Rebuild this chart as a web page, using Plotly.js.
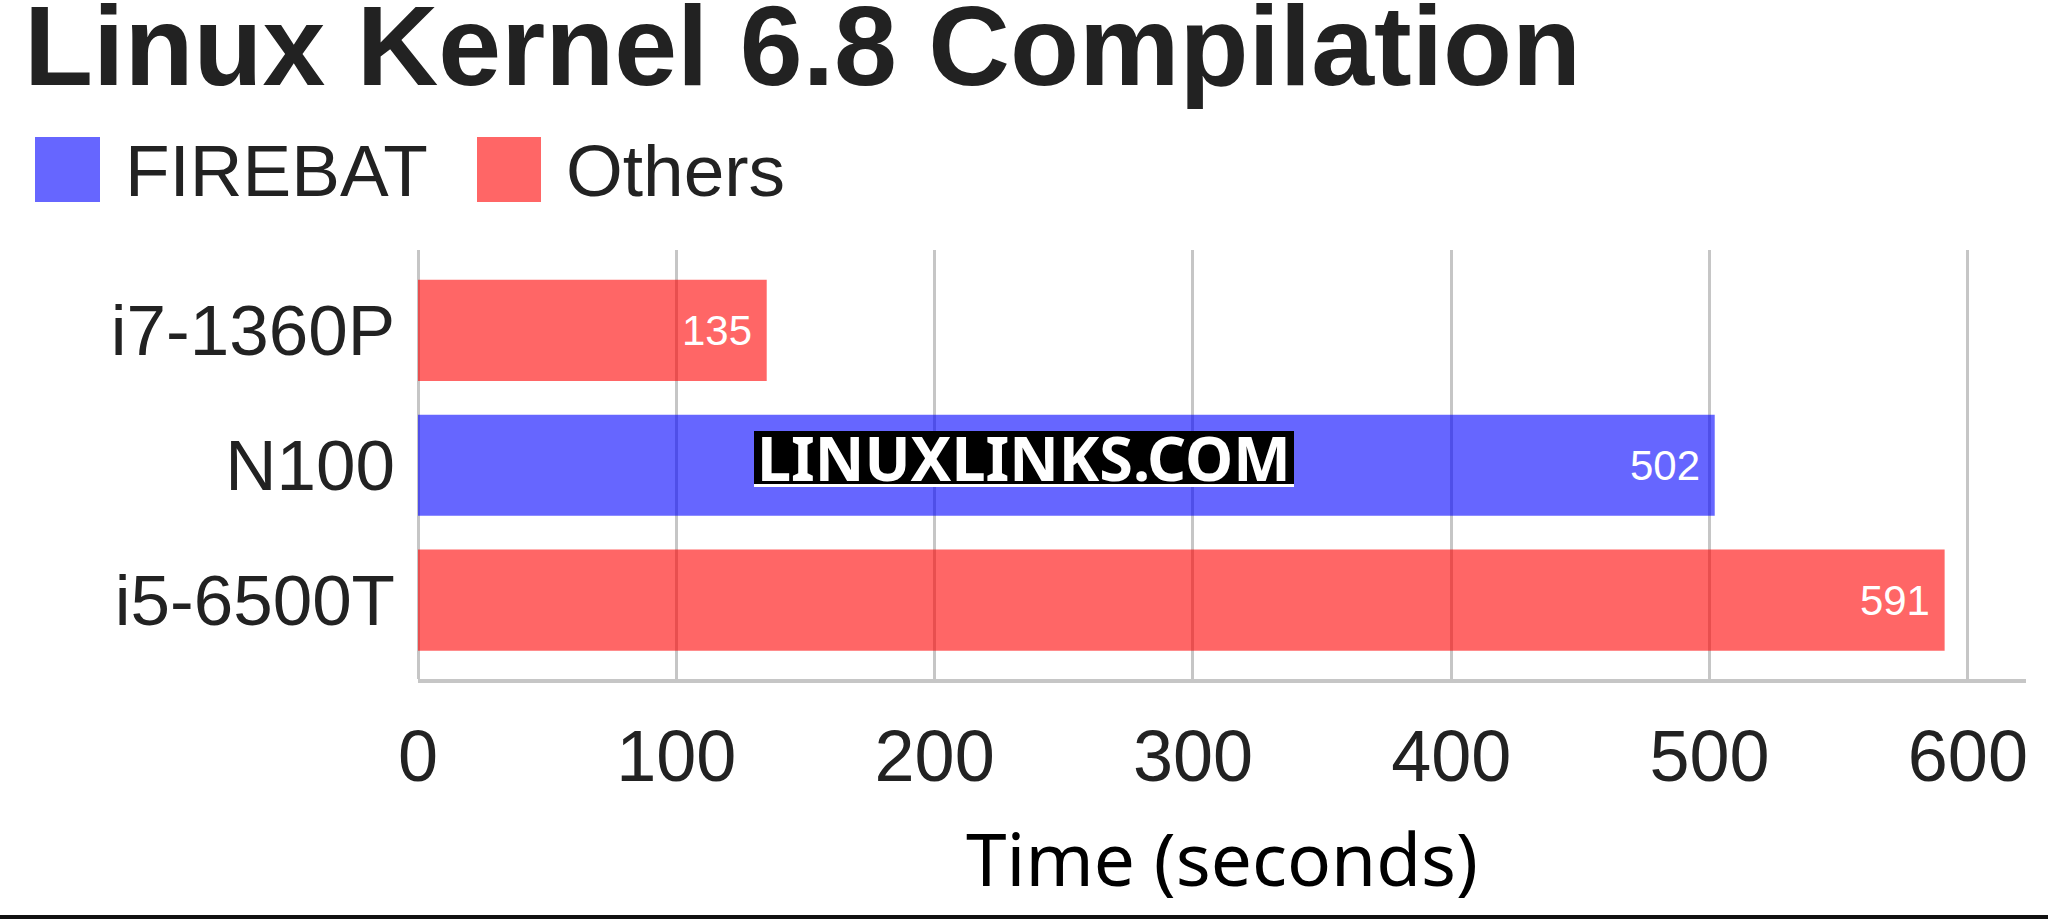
<!DOCTYPE html>
<html>
<head>
<meta charset="utf-8">
<script src="https://cdn.plot.ly/plotly-3.0.1.min.js"></script>
<style>
  html, body { margin: 0; padding: 0; background: #fff; overflow: hidden; }
  #chart { width: 2048px; height: 919px; }
</style>
</head>
<body>
<div id="chart"></div>
<script>
const categories = ['i7-1360P', 'N100', 'i5-6500T'];
const times = [135, 502, 591];
const groups = ['Others', 'FIREBAT', 'Others'];
const xTicks = [0, 100, 200, 300, 400, 500, 600];

const W = 2048, H = 919;
const M = { l: 418, r: 22, t: 250, b: 240 };
const plotW = W - M.l - M.r;
const plotH = H - M.t - M.b;

// pixel -> paper helpers for the decorations outside the data
function px(x) { return (x - M.l) / plotW; }
function py(y) { return (H - M.b - y) / plotH; }

const barColors = { FIREBAT: 'rgba(0,0,255,0.6)', Others: 'rgba(255,0,0,0.6)' };
const keyColors = { FIREBAT: '#6666ff', Others: '#ff6666' };

function makeTrace(name) {
    const y = [], x = [];
    categories.forEach((c, i) => {
        if (groups[i] === name) { y.push(c); x.push(times[i]); }
    });
    return {
        type: 'bar',
        orientation: 'h',
        name: name,
        x: x,
        y: y,
        width: 0.75,
        marker: { color: barColors[name], line: { width: 0 } },
        texttemplate: '%{x}\u00a0',
        textposition: 'inside',
        insidetextanchor: 'end',
        constraintext: 'none',
        textfont: { family: 'Liberation Sans, Arial, sans-serif', size: 42, color: '#ffffff' },
        hoverinfo: 'none',
        showlegend: false
    };
}

const data = [makeTrace('FIREBAT'), makeTrace('Others')];

const fontMain = 'Liberation Sans, Arial, sans-serif';

const shapes = [
    // legend keys
    { type: 'rect', xref: 'paper', yref: 'paper', x0: px(35), x1: px(100), y0: py(202), y1: py(137),
      fillcolor: keyColors.FIREBAT, line: { width: 0 } },
    { type: 'rect', xref: 'paper', yref: 'paper', x0: px(477), x1: px(541), y0: py(202), y1: py(137),
      fillcolor: keyColors.Others, line: { width: 0 } },
    // watermark box
    { type: 'rect', xref: 'paper', yref: 'paper', x0: px(754), x1: px(1294), y0: py(484), y1: py(431),
      fillcolor: '#000000', line: { width: 0 } },
    { type: 'line', xref: 'paper', yref: 'paper', x0: px(754), x1: px(1294), y0: py(485.5), y1: py(485.5),
      line: { color: '#ffffff', width: 3 } },
    // bottom rule
    { type: 'line', xref: 'paper', yref: 'paper', x0: px(0), x1: px(W), y0: py(917), y1: py(917),
      line: { color: '#111111', width: 4 } }
];

const annotations = [
    { text: 'FIREBAT', xref: 'paper', yref: 'paper', x: px(123), y: py(170), xanchor: 'left', yanchor: 'middle',
      showarrow: false, font: { family: fontMain, size: 73, color: '#222222' } },
    { text: 'Others', xref: 'paper', yref: 'paper', x: px(564), y: py(170), xanchor: 'left', yanchor: 'middle',
      showarrow: false, font: { family: fontMain, size: 73, color: '#222222' } },
    { text: '<b>LINUXLINKS.COM</b>', xref: 'paper', yref: 'paper', x: px(1024), y: py(457), xanchor: 'center', yanchor: 'middle',
      showarrow: false, font: { family: 'Noto Sans, DejaVu Sans, sans-serif', size: 61, color: '#ffffff' } }
];

const layout = {
    width: W,
    height: H,
    margin: M,
    paper_bgcolor: '#ffffff',
    plot_bgcolor: '#ffffff',
    barmode: 'overlay',
    showlegend: false,
    title: {
        text: '<b>Linux Kernel 6.8 Compilation</b>',
        font: { family: fontMain, size: 113, color: '#222222' },
        x: 24 / W, xref: 'container', xanchor: 'left',
        y: 1 - 45 / H, yref: 'container', yanchor: 'middle'
    },
    xaxis: {
        range: [0, 622.5],
        tickvals: xTicks,
        ticktext: xTicks.map(String),
        ticks: '',
        ticklabelstandoff: 12,
        tickfont: { family: fontMain, size: 72, color: '#222222' },
        showgrid: true,
        gridcolor: '#c6c6c6',
        gridwidth: 3,
        zeroline: true,
        zerolinecolor: '#c6c6c6',
        zerolinewidth: 3,
        showline: true,
        linecolor: '#c6c6c6',
        linewidth: 4,
        fixedrange: true,
        title: {
            text: 'Time (seconds)',
            font: { family: 'Noto Sans, DejaVu Sans, sans-serif', size: 73, color: '#000000' },
            standoff: 40
        }
    },
    yaxis: {
        type: 'category',
        categoryorder: 'array',
        categoryarray: categories,
        range: [2.585, -0.596],
        ticks: '',
        ticklabelstandoff: 22,
        tickfont: { family: fontMain, size: 71, color: '#222222' },
        showgrid: false,
        zeroline: false,
        showline: false,
        fixedrange: true
    },
    shapes: shapes,
    annotations: annotations
};

Plotly.newPlot('chart', data, layout, { displayModeBar: false, staticPlot: true });
</script>
</body>
</html>
